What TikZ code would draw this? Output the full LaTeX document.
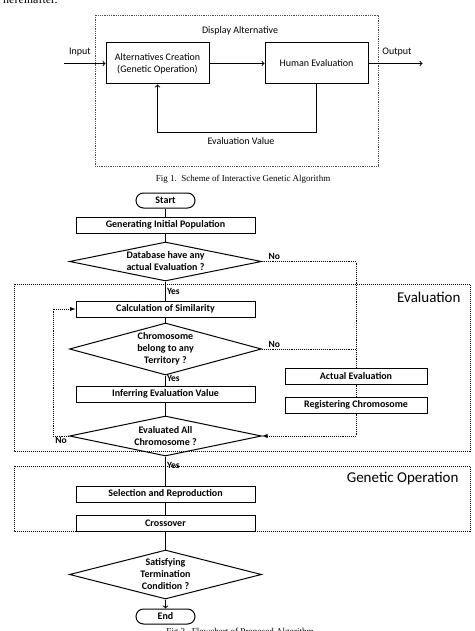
\documentclass[tikz,border=0pt]{standalone}
\usepackage{fontspec}
\setmainfont{Liberation Serif}
\newfontfamily\calibri{Carlito}
\usetikzlibrary{positioning, shapes.geometric, shapes.misc}

\begin{document}
\begin{tikzpicture}[x=1pt, y=-1pt,
        box/.style={draw, line width=1pt, fill=white, minimum width=103pt, minimum height=41pt, align=center, inner sep=1pt, font=\calibri\fontsize{10}{12}\selectfont},
        process/.style={draw, line width=1pt, fill=white, minimum width=179pt, minimum height=16pt, inner sep=1pt, font=\calibri\bfseries\fontsize{10}{12}\selectfont},
        decision/.style={draw, line width=1pt, diamond, aspect=4.5, inner sep=0pt, minimum width=192pt, align=center, font=\calibri\bfseries\fontsize{10}{12}\selectfont},
        terminal/.style={draw, line width=1pt, rounded rectangle, minimum width=61pt, minimum height=15pt, inner sep=1pt, font=\calibri\bfseries\fontsize{10}{12}\selectfont},
        answer/.style={font=\calibri\bfseries\fontsize{9.5}{11}\selectfont, inner sep=1pt},
        plain/.style={font=\calibri\fontsize{10}{12}\selectfont},
        title/.style={font=\calibri\fontsize{15}{18}\selectfont},
        group/.style={densely dotted, line width=1pt},
        back/.style={densely dotted, line width=0.9pt}]
        \useasboundingbox (0,0) rectangle (474,631);
        \node[anchor=base west, inner sep=0pt, font=\fontsize{12}{14}\selectfont] (prev) at (3,4) {hereinafter.};
        %---------------------------
        \draw[densely dotted, black!70, line width=0.8pt] (95,15) rectangle (378,166);
        \node[plain] (disp) at (240,31) {Display Alternative};
        \node[box] (alt) at (157.5,63.5) {Alternatives Creation\\(Genetic Operation)};
        \node[box, right=55pt of alt] (hum) {Human Evaluation};
        \coordinate (in) at (64,63.5);
        \coordinate[right=54pt of hum] (out);
        \node[plain] (inlbl) at (80,52) {Input};
        \node[plain] (outlbl) at (397,52) {Output};
        \draw[->, line width=1pt] (in) -- (alt);
        \draw[->, line width=1pt] (alt) -- (hum);
        \draw[->, line width=1pt] (hum) -- (out);
        \draw[->, line width=1pt] (hum.south) -- ++(0,48) -| (alt.south);
        \node[plain] (evlbl) at (241,141) {Evaluation Value};
        \node[font=\fontsize{9}{11}\selectfont] (fig1) at (243,179) {Fig 1.~~Scheme of Interactive Genetic Algorithm};
        %---------------------------
        \draw[group] (14,284) rectangle (470,451);
        \node[title, anchor=east] (evtitle) at (464,297) {Evaluation};
        \draw[group] (14,466) rectangle (470,531);
        \node[title, anchor=east] (gotitle) at (462,479) {Genetic Operation};
        %---------------------------
        \node[terminal] (start) at (165.5,200.5) {Start};
        \node[process, below=8pt of start] (gen) {Generating Initial Population};
        \node[decision, minimum height=39pt, below=8pt of gen] (d1) {Database have any\\actual Evaluation ?};
        \node[process, below=19pt of d1] (calc) {Calculation of Similarity};
        \node[decision, aspect=3.8, minimum height=52pt, below=5pt of calc] (d2) {Chromosome\\belong to any\\Territory ?};
        \node[process, below=10pt of d2] (infer) {Inferring Evaluation Value};
        \node[decision, minimum height=40pt, below=13pt of infer] (d3) {Evaluated All\\Chromosome ?};
        \node[process, below=29pt of d3] (sel) {Selection and Reproduction};
        \node[process, below=12pt of sel] (cross) {Crossover};
        \node[decision, aspect=3.8, minimum height=49pt, below=18pt of cross] (d4) {Satisfying\\Termination\\Condition ?};
        \node[terminal, below=9pt of d4] (end) {End};
        \node[process, minimum width=142pt] (act) at (356,376) {Actual Evaluation};
        \node[process, minimum width=142pt, below=12pt of act] (reg) {Registering Chromosome};
        %---------------------------
        \path[line width=1pt]
        (start) edge (gen)
        (gen) edge (d1)
        (d1) edge node[answer, right, pos=0.55] {Yes} (calc)
        (calc) edge (d2)
        (d2) edge node[answer, right, pos=0.3] {Yes} (infer)
        (infer) edge (d3)
        (d3) edge node[answer, right, pos=0.3] {Yes} (sel)
        (sel) edge (cross)
        (cross) edge (d4)
        (d4) edge[->] (end);
        %---------------------------
        \draw[back] (d1.east) -- node[answer, above, pos=0.13] {No} (d1.east -| act.north) -- (act.north);
        \draw[back] (d2.east) -- node[answer, above, pos=0.13] {No} (d2.east -| act.north);
        \draw[back] (act) -- (reg);
        \draw[back, -latex] (reg.south) |- (d3.east);
        \draw[back, -latex] (d3.west) -- node[answer, below, pos=0.5] {No} ++(-16,0) |- (calc.west);
        %---------------------------
        \node[anchor=base, font=\fontsize{9}{11}\selectfont] (fig2) at (240,634) {Fig 2.~~Flowchart of Proposed Algorithm};
\end{tikzpicture}
\end{document}
